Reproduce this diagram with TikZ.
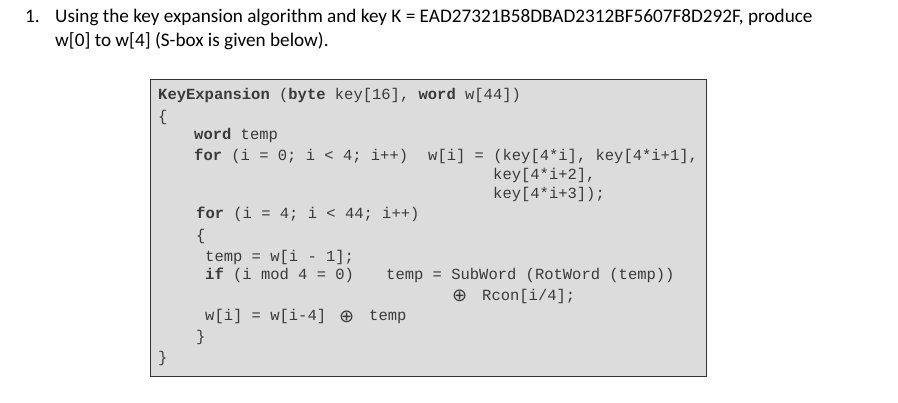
\documentclass[tikz,border=0pt]{standalone}
\usepackage{fontspec}
\setmainfont{Carlito}
\newfontfamily\codefont{Liberation Mono}
\newfontfamily\symfont{DejaVu Sans}
\definecolor{boxgray}{HTML}{DCDCDC}
\definecolor{codeink}{HTML}{3A3A3A}
\begin{document}
\begin{tikzpicture}[x=1pt,y=-1pt,
  title/.style={anchor=base west,inner sep=0pt,font=\fontsize{19.2}{22}\selectfont},
  code/.style={anchor=base west,inner sep=0pt,text=codeink,font=\codefont\fontsize{15.5}{17}\selectfont},
  xor/.style={anchor=base west,inner sep=0pt,text=codeink,font=\symfont\fontsize{18}{18}\selectfont}]
\useasboundingbox (0,0) rectangle (898,403);
\node[title] (n1) at (25,23) {1.};
\node[title] (t1) at (55,23) {Using the key expansion algorithm and key K = EAD27321B58DBAD2312BF5607F8D292F, produce};
\node[title] (t2) at (55,47) {w[0] to w[4] (S-box is given below).};
\node[draw=black!80,line width=1.3pt,fill=boxgray,minimum width=556pt,minimum height=297pt,anchor=north west,inner sep=0pt] (box) at (150,79) {};
\node[code] (l1) at (158,100) {\textbf{KeyExpansion} (\textbf{byte} key[16], \textbf{word} w[44])};
\node[code] (l2) at (158,122) {\{};
\node[code] (l3) at (194,140) {\textbf{word} temp};
\node[code] (l4) at (194,161) {\textbf{for} (i = 0; i < 4; i++)};
\node[code] (l4b) at (428,161) {w[i] = (key[4*i], key[4*i+1],};
\node[code] (l5) at (493,180) {key[4*i+2],};
\node[code] (l6) at (493,199) {key[4*i+3]);};
\node[code] (l7) at (196,219) {\textbf{for} (i = 4; i < 44; i++)};
\node[code] (l8) at (196,241) {\{};
\node[code] (l9) at (205,262) {temp = w[i - 1];};
\node[code] (l10) at (205,280) {\textbf{if} (i mod 4 = 0)};
\node[code] (l10b) at (386,280) {temp = SubWord (RotWord (temp))};
\node[xor] (x1) at (452,302) {⊕};
\node[code] (l11) at (482,301) {Rcon[i/4];};
\node[code] (l12) at (205,321) {w[i] = w[i-4]};
\node[xor] (x2) at (339,323) {⊕};
\node[code] (l12b) at (369,321) {temp};
\node[code] (l13) at (196,342) {\}};
\node[code] (l14) at (158,363) {\}};
\end{tikzpicture}
\end{document}
